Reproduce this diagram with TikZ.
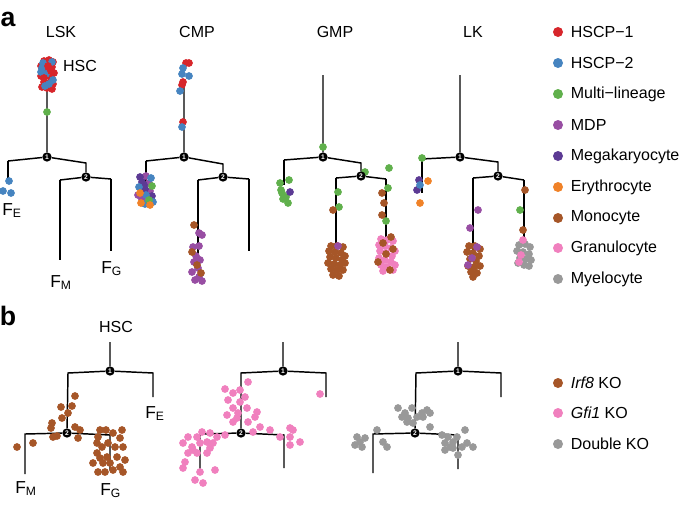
\documentclass[tikz,border=0pt]{standalone}
\usepackage{fontspec}
\setmainfont{Liberation Sans}
\usetikzlibrary{backgrounds,positioning}

\definecolor{hscpone}{RGB}{215,38,43}
\definecolor{hscptwo}{RGB}{70,132,192}
\definecolor{multi}{RGB}{96,176,76}
\definecolor{mdp}{RGB}{152,78,163}
\definecolor{megak}{RGB}{92,58,148}
\definecolor{ery}{RGB}{240,130,40}
\definecolor{mono}{RGB}{166,86,40}
\definecolor{gran}{RGB}{240,128,190}
\definecolor{myelo}{RGB}{153,153,153}

\tikzset{
  splitpt/.style={circle, fill=black, inner sep=0pt, minimum size=7pt, text=white,
    font=\fontsize{5}{5}\selectfont\bfseries},
  twig/.style={line width=1.1pt},
  hdr/.style={font=\fontsize{12}{14}\selectfont},
  flab/.style={font=\fontsize{13}{15}\selectfont, anchor=base west, inner sep=0pt},
  panel/.style={font=\fontsize{20}{22}\selectfont\bfseries},
  legdot/.style={circle, inner sep=0pt, minimum size=7.5pt},
  legtxt/.style={font=\fontsize{12}{14}\selectfont, inner sep=0pt},
}

\newcommand\cellpts[2]{\foreach \x/\y in {#2}{\fill[#1] (\x,\y) circle (2.9pt);}}

\begin{document}
\begin{tikzpicture}[x=0.75pt, y=-0.75pt]
  \useasboundingbox (0,0) rectangle (685,507);

  % panel a
  \node[panel] (pa) at (8,19) {a};
  \node[hdr] (tLSK) at (61,32) {LSK};
  \node[hdr] (tCMP) at (197,32) {CMP};
  \node[hdr] (tGMP) at (335,32) {GMP};
  \node[hdr] (tLK) at (473,32) {LK};

  % LSK
  \coordinate (lskTop) at (47,80);
  \node[splitpt] (lskA) at (47,157) {1};
  \coordinate (lskAl) at (8,161);
  \coordinate (lskFe) at (8,183);
  \coordinate (lskAr) at (86,163);
  \node[splitpt] (lskB) at (86,177) {2};
  \coordinate (lskBl) at (60,180);
  \coordinate (lskFm) at (60,260);
  \coordinate (lskBr) at (111,179);
  \coordinate (lskFg) at (111,251);
  \node[hdr] (hsc) at (80,66) {HSC};
  \node[flab] (fe) at (2,215) {F\textsubscript{E}};
  \node[flab] (fm) at (50,287) {F\textsubscript{M}};
  \node[flab] (fg) at (101,273) {F\textsubscript{G}};

  % CMP
  \coordinate (cmpTop) at (184,84);
  \node[splitpt] (cmpA) at (184,157) {1};
  \coordinate (cmpAl) at (146,161);
  \coordinate (cmpE) at (146,190);
  \coordinate (cmpAr) at (223,164);
  \node[splitpt] (cmpB) at (223,177) {2};
  \coordinate (cmpBl) at (198,180);
  \coordinate (cmpM) at (198,270);
  \coordinate (cmpBr) at (249,179);
  \coordinate (cmpG) at (249,251);

  % GMP
  \coordinate (gmpTop) at (323,75);
  \node[splitpt] (gmpA) at (323,157) {1};
  \coordinate (gmpAl) at (284,160);
  \coordinate (gmpE) at (284,185);
  \coordinate (gmpAr) at (361,163);
  \node[splitpt] (gmpB) at (361,176) {2};
  \coordinate (gmpBl) at (336,178);
  \coordinate (gmpM) at (336,255);
  \coordinate (gmpBr) at (386,179);
  \coordinate (gmpG) at (386,240);

  % LK
  \coordinate (lkTop) at (460,75);
  \node[splitpt] (lkA) at (460,157) {1};
  \coordinate (lkAl) at (422,159);
  \coordinate (lkE) at (422,193);
  \coordinate (lkAr) at (498,162);
  \node[splitpt] (lkB) at (498,176) {2};
  \coordinate (lkBl) at (473,178);
  \coordinate (lkM) at (473,262);
  \coordinate (lkBr) at (524,180);
  \coordinate (lkG) at (524,245);

  % legend a
  \node[legdot, fill=hscpone] (la1) at (558,32) {};
  \node[legdot, fill=hscptwo] (la2) at (558,63) {};
  \node[legdot, fill=multi] (la3) at (558,94) {};
  \node[legdot, fill=mdp] (la4) at (558,125) {};
  \node[legdot, fill=megak] (la5) at (558,156) {};
  \node[legdot, fill=ery] (la6) at (558,187) {};
  \node[legdot, fill=mono] (la7) at (558,218) {};
  \node[legdot, fill=gran] (la8) at (558,248) {};
  \node[legdot, fill=myelo] (la9) at (558,279) {};
  \node[legtxt, right=5.5pt of la1] (ta1) {HSCP−1};
  \node[legtxt, right=5.5pt of la2] (ta2) {HSCP−2};
  \node[legtxt, right=5.5pt of la3] (ta3) {Multi−lineage};
  \node[legtxt, right=5.5pt of la4] (ta4) {MDP};
  \node[legtxt, right=5.5pt of la5] (ta5) {Megakaryocyte};
  \node[legtxt, right=5.5pt of la6] (ta6) {Erythrocyte};
  \node[legtxt, right=5.5pt of la7] (ta7) {Monocyte};
  \node[legtxt, right=5.5pt of la8] (ta8) {Granulocyte};
  \node[legtxt, right=5.5pt of la9] (ta9) {Myelocyte};

  % panel b
  \node[panel] (pb) at (8,316) {b};
  \node[hdr] (hscb) at (116,327) {HSC};

  % Irf8
  \coordinate (irTop) at (110,342);
  \node[splitpt] (irA) at (110,371) {1};
  \coordinate (irAl) at (68,373);
  \coordinate (irAr) at (153,373);
  \coordinate (irE) at (153,397);
  \node[splitpt] (irB) at (67,433) {2};
  \coordinate (irBl) at (25,434);
  \coordinate (irM) at (25,474);
  \coordinate (irBr) at (110,435);
  \coordinate (irG) at (110,470);
  \node[flab] (feb) at (145,418) {F\textsubscript{E}};
  \node[flab] (fmb) at (15,493) {F\textsubscript{M}};
  \node[flab] (fgb) at (100,495) {F\textsubscript{G}};

  % Gfi1
  \coordinate (gfTop) at (283,342);
  \node[splitpt] (gfA) at (283,371) {1};
  \coordinate (gfAl) at (241,373);
  \coordinate (gfAr) at (326,373);
  \coordinate (gfE) at (326,397);
  \node[splitpt] (gfB) at (241,433) {2};
  \coordinate (gfBl) at (200,434);
  \coordinate (gfM) at (200,470);
  \coordinate (gfBr) at (284,435);
  \coordinate (gfG) at (284,468);

  % double KO
  \coordinate (dkTop) at (458,342);
  \node[splitpt] (dkA) at (458,371) {1};
  \coordinate (dkAl) at (416,373);
  \coordinate (dkAr) at (501,373);
  \coordinate (dkE) at (501,397);
  \node[splitpt] (dkB) at (415,433) {2};
  \coordinate (dkBl) at (373,434);
  \coordinate (dkM) at (373,473);
  \coordinate (dkBr) at (458,435);
  \coordinate (dkG) at (458,469);

  % legend b
  \node[legdot, fill=mono] (lb1) at (558,383) {};
  \node[legdot, fill=gran] (lb2) at (558,413) {};
  \node[legdot, fill=myelo] (lb3) at (558,444) {};
  \node[legtxt, right=5.5pt of lb1] (tb1) {\textit{Irf8} KO};
  \node[legtxt, right=5.5pt of lb2] (tb2) {\textit{Gfi1} KO};
  \node[legtxt, right=5.5pt of lb3] (tb3) {Double KO};

  \begin{scope}[on background layer]
    \foreach \t in {lsk,cmp,gmp,lk}{
      \draw[twig] (\t Top) -- (\t A) -- (\t Al);
      \draw[twig] (\t A) -- (\t Ar) -- (\t B) -- (\t Bl);
      \draw[twig] (\t B) -- (\t Br);
    }
    \draw[twig] (lskAl) -- (lskFe);
    \draw[twig] (lskBl) -- (lskFm);
    \draw[twig] (lskBr) -- (lskFg);
    \draw[twig] (cmpAl) -- (cmpE);
    \draw[twig] (cmpBl) -- (cmpM);
    \draw[twig] (cmpBr) -- (cmpG);
    \draw[twig] (gmpAl) -- (gmpE);
    \draw[twig] (gmpBl) -- (gmpM);
    \draw[twig] (gmpBr) -- (gmpG);
    \draw[twig] (lkAl) -- (lkE);
    \draw[twig] (lkBl) -- (lkM);
    \draw[twig] (lkBr) -- (lkG);
    \foreach \t in {ir,gf,dk}{
      \draw[twig] (\t Top) -- (\t A) -- (\t Al) -- (\t B) -- (\t Bl) -- (\t M);
      \draw[twig] (\t A) -- (\t Ar) -- (\t E);
      \draw[twig] (\t B) -- (\t Br) -- (\t G);
    }

    % LSK cells
    \cellpts{hscpone}{44/61,49/60,53/62,41/66,47/64,52/67,43/71,48/70,54/73,41/76,46/76,51/78,44/82,49/83,53/84,42/87,47/88,52/89,45/68,50/74}
    \cellpts{hscptwo}{43/63,42/68,41/72,46/74,52/62,49/84,53/80,45/86}
    \cellpts{hscpone}{48/66,44/78,51/71}
    \cellpts{multi}{47/112}
    \cellpts{hscptwo}{9/181,3/191,11/193}

    % CMP cells
    \cellpts{hscpone}{186/63,189/63,183/82,182/85,183/122}
    \cellpts{hscptwo}{183/68,182/74,189/76,180/91,182/127}
    \cellpts{mdp}{146/176,149/183,150/191,142/199,138/195}
    \cellpts{megak}{140/177,142/182,145/189,152/196,144/185}
    \cellpts{hscptwo}{151/178,139/187,146/195,145/204,153/202}
    \cellpts{multi}{152/186,149/200}
    \cellpts{ery}{140/193,141/203,150/205}
    \cellpts{mdp}{199/233,202/235,193/247,199/246,196/256,200/260,194/262,198/268,192/272,199/277,195/280,202/281}
    \cellpts{mono}{194/225,192/252,197/265,201/273}

    % GMP cells
    \cellpts{multi}{323/147,365/172,389/168,280/183,289/180,282/193,286/197,288/203,283/199,281/190,338/192,339/207,388/188,386/221}
    \cellpts{megak}{290/192}
    \cellpts{mono}{333/210,382/193,384/203,382/215}
    \cellpts{mono}{331/246,337/246,343/247,329/251,335/252,341/253,345/256,330/257,336/258,342/260,328/263,334/264,340/265,345/263,331/269,337/270,343/270,333/275,339/276}
    \cellpts{mdp}{338/246}
    \cellpts{gran}{381/239,387/240,393/241,379/245,385/246,391/248,395/251,380/251,386/253,392/256,379/258,385/260,391/262,395/265,381/265,387/267,393/270,383/271}
    \cellpts{mono}{391/237,386/254,393/249,390/270,383/243,378/262}

    % LK cells
    \cellpts{multi}{422/158,520/210}
    \cellpts{megak}{419/180,417/190}
    \cellpts{hscptwo}{420/185}
    \cellpts{ery}{428/181,420/203}
    \cellpts{mdp}{478/210,470/228}
    \cellpts{mono}{469/246,475/246,480/249,467/252,473/253,479/256,470/259,476/261,468/266,474/267,480/266,471/272,477/273,473/277}
    \cellpts{mdp}{477/247,472/258,468/265}
    \cellpts{mono}{525/190,523/230}
    \cellpts{myelo}{519/245,525/244,530/247,517/251,523/252,529/254,520/258,526/259,531/260,518/263,524/265,529/266}
    \cellpts{gran}{523/240,521/255,519/262}

    % knockouts
    \cellpts{mono}{75/396,61/407,72/406,68/413,62/418,52/423,51/428,57/436,53/437,75/427,80/430,78/438,17/447,33/443,
      100/430,106/430,98/437,97/443,102/447,97/453,93/463,98/472,103/463,113/433,122/430,120/438,115/447,123/447,
      117/457,125/460,120/467,123/472,113/470,108/443,107/457,100/458,110/463,105/472}
    \cellpts{gran}{320/394,240/390,248/382,225/389,233/393,245/397,228/400,240/402,233/408,227/415,238/413,247/408,
      257/412,255/417,248/422,233/422,237/418,253/432,260/427,270/430,290/428,293/430,290/437,300/442,290/445,
      280/437,225/435,217/437,210/433,202/432,197/437,207/442,200/443,213/443,183/443,192/447,197/453,188/453,
      207/453,185/462,183/468,200/472,215/470,195/480,203/483,193/450,210/448,188/437}
    \cellpts{myelo}{398/408,405/413,412/408,402/417,408/418,417/417,422/413,427/410,430/413,423/417,407/422,413/423,
      430/427,357/437,360/442,365/438,355/445,362/447,377/430,383/442,387/447,442/435,448/437,457/437,465/430,
      445/443,453/442,445/450,453/448,462/447,467/443,473/447,458/455,450/447}
  \end{scope}
\end{tikzpicture}
\end{document}
